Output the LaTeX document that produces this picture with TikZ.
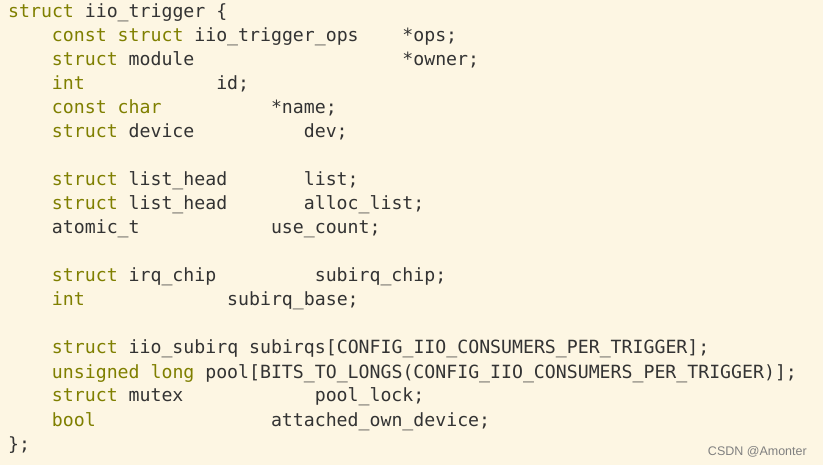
\documentclass[tikz,border=0pt]{standalone}
\usepackage{fontspec}
\setmonofont{DejaVu Sans Mono}
\setsansfont{Liberation Sans}
\definecolor{bg}{HTML}{FDF6E3}
\definecolor{kw}{HTML}{7F7F00}
\definecolor{tx}{HTML}{333333}
\newcommand{\tk}[4][tx]{\node[font=\ttfamily\fontsize{18.2}{20}\selectfont,text=#1,anchor=base west,inner sep=0pt] at (8+#2*10.95,18+#3*24) {#4};}
\begin{document}
\begin{tikzpicture}[x=1pt,y=-1pt]
\fill[bg] (0,0) rectangle (823,465);
\useasboundingbox (0,0) rectangle (823,465);
\tk[kw]{0}{0}{struct}\tk{7}{0}{iio\_trigger \{}
\tk[kw]{4}{1}{const struct}\tk{17}{1}{iio\_trigger\_ops}\tk{36}{1}{*ops;}
\tk[kw]{4}{2}{struct}\tk{11}{2}{module}\tk{36}{2}{*owner;}
\tk[kw]{4}{3}{int}\tk{19}{3}{id;}
\tk[kw]{4}{4}{const char}\tk{24}{4}{*name;}
\tk[kw]{4}{5}{struct}\tk{11}{5}{device}\tk{27}{5}{dev;}
\tk[kw]{4}{7}{struct}\tk{11}{7}{list\_head}\tk{27}{7}{list;}
\tk[kw]{4}{8}{struct}\tk{11}{8}{list\_head}\tk{27}{8}{alloc\_list;}
\tk{4}{9}{atomic\_t}\tk{24}{9}{use\_count;}
\tk[kw]{4}{11}{struct}\tk{11}{11}{irq\_chip}\tk{28}{11}{subirq\_chip;}
\tk[kw]{4}{12}{int}\tk{20}{12}{subirq\_base;}
\tk[kw]{4}{14}{struct}\tk{11}{14}{iio\_subirq subirqs[CONFIG\_IIO\_CONSUMERS\_PER\_TRIGGER];}
\tk[kw]{4}{15}{unsigned long}\tk{18}{15}{pool[BITS\_TO\_LONGS(CONFIG\_IIO\_CONSUMERS\_PER\_TRIGGER)];}
\tk[kw]{4}{16}{struct}\tk{11}{16}{mutex}\tk{28}{16}{pool\_lock;}
\tk[kw]{4}{17}{bool}\tk{24}{17}{attached\_own\_device;}
\tk{0}{18}{\};}
\node[font=\sffamily\fontsize{12.5}{14}\selectfont,text=gray,anchor=base east,inner sep=0pt] (wm) at (807,455) {CSDN @Amonter};
\end{tikzpicture}
\end{document}
